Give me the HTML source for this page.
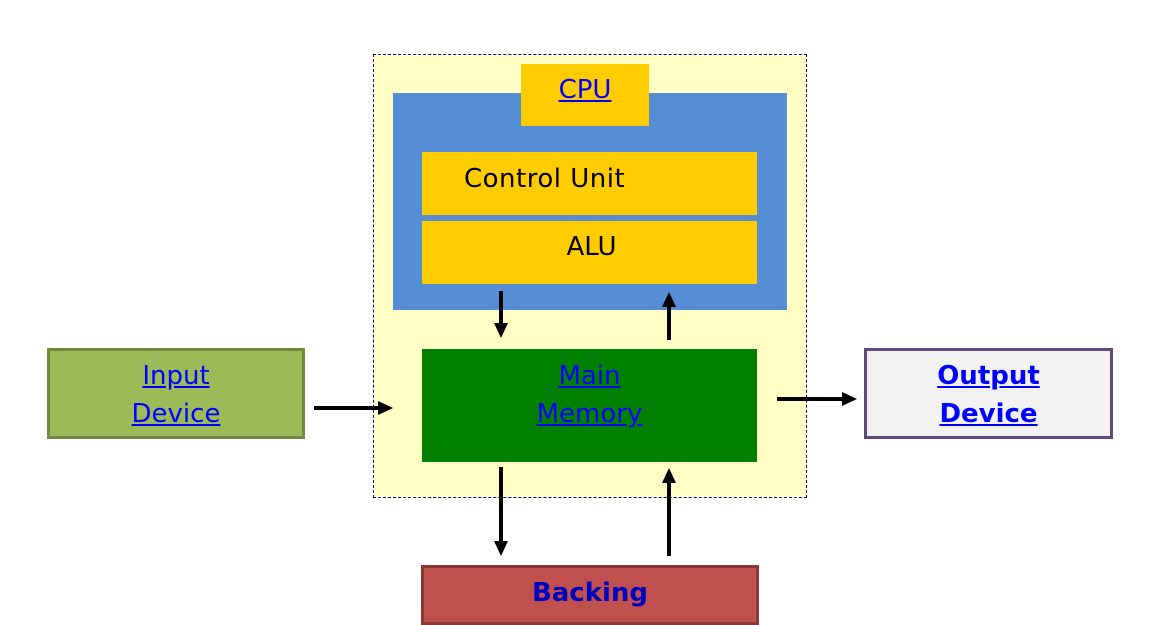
<!DOCTYPE html>
<html><head><style>
body{margin:0;width:1152px;height:604px;overflow:hidden;background:#fff;position:relative;font-family:"DejaVu Sans","Liberation Sans",sans-serif;}
div{position:absolute;box-sizing:border-box;}
.t{font-size:26px;line-height:38px;text-align:center;}
a{color:#0000ff;text-decoration:underline;}
</style></head><body>
<div style="left:373px;top:54px;width:434px;height:444px;background:#FFFFC5;border:1px dashed #000080;"></div>
<div style="left:393px;top:93px;width:394px;height:217px;background:#558ED5;"></div>
<div class="t" style="left:521px;top:64px;width:128px;height:62px;background:#FFCC00;padding-top:7px;"><a>CPU</a></div>
<div class="t" style="left:422px;top:152px;width:335px;height:63px;background:#FFCC00;padding-top:8px;text-align:left;padding-left:42px;letter-spacing:0.5px;">Control Unit</div>
<div class="t" style="left:422px;top:221px;width:335px;height:63px;background:#FFCC00;padding-top:7px;padding-left:4px;">ALU</div>
<div class="t" style="left:422px;top:349px;width:335px;height:113px;background:#008000;padding-top:8px;"><a>Main</a><br><a>Memory</a></div>
<div class="t" style="left:47px;top:348px;width:258px;height:91px;background:#9BBB59;border:3px solid #71893F;padding-top:6px;"><a>Input</a><br><a>Device</a></div>
<div class="t" style="left:864px;top:348px;width:249px;height:91px;background:#F2F2F2;border:3px solid #604A7B;padding-top:6px;font-weight:bold;"><a>Output</a><br><a>Device</a></div>
<div class="t" style="left:421px;top:565px;width:338px;height:60px;background:#C0504D;border:3px solid #8C3836;padding-top:6px;font-weight:bold;color:#0000c0;">Backing</div>
<svg width="1152" height="604" style="position:absolute;left:0;top:0">
<g stroke="#000" stroke-width="4" fill="#000">
<line x1="501" y1="291" x2="501" y2="325"/><polygon points="494,323 508,323 501,338" stroke="none"/>
<line x1="669" y1="340" x2="669" y2="305"/><polygon points="662,307 676,307 669,292" stroke="none"/>
<line x1="314" y1="408" x2="380" y2="408"/><polygon points="378,401 378,415 393,408" stroke="none"/>
<line x1="777" y1="399" x2="844" y2="399"/><polygon points="842,392 842,406 857,399" stroke="none"/>
<line x1="501" y1="467" x2="501" y2="543"/><polygon points="494,541 508,541 501,556" stroke="none"/>
<line x1="669" y1="556" x2="669" y2="481"/><polygon points="662,483 676,483 669,468" stroke="none"/>
</g></svg>
</body></html>
